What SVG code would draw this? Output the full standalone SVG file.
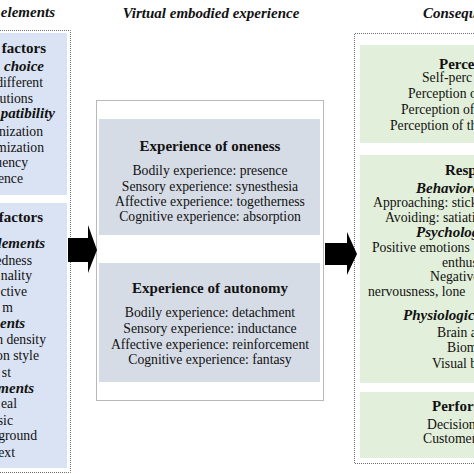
<svg xmlns="http://www.w3.org/2000/svg" width="474" height="474" viewBox="0 0 474 474">
<style>
text{font-family:"Liberation Serif","Times New Roman",serif;font-size:13.7px;fill:#111}
.h{font-weight:bold;font-size:15px}
.bi{font-weight:bold;font-style:italic;font-size:15px}
.t{font-weight:bold;font-style:italic;font-size:15px}
.e{text-anchor:end}
.m{text-anchor:middle}
.border{fill:none;stroke:#707070;stroke-width:1;stroke-dasharray:1 1}
.pb{fill:#dae3f3}
.pg{fill:#d6dce6}
.pn{fill:#e2efda}
</style>
<rect width="474" height="474" fill="#fff"/>
<text class="t e" x="55" y="17">elements</text>
<text class="t m" x="211" y="18">Virtual embodied experience</text>
<text class="t" x="423" y="18">Consequ</text>
<g id="antecedents">
<rect class="pb" x="0" y="33" width="67" height="162"/>
<rect class="pb" x="0" y="203" width="67" height="265"/>
<path class="border" d="M0 30.5H70.5V472.5H0"/>
<text class="h e" x="46" y="53">factors</text>
<text class="bi e" x="44" y="71">choice</text>
<text class="e" x="43" y="87">different</text>
<text class="e" x="33" y="103">utions</text>
<text class="bi e" x="55" y="118">patibility</text>
<text class="e" x="43" y="136">nization</text>
<text class="e" x="44" y="152">mization</text>
<text class="e" x="28" y="167">uency</text>
<text class="e" x="23" y="183">ence</text>
<text class="h e" x="43" y="222">factors</text>
<text class="bi e" x="45" y="248">lements</text>
<text class="e" x="32" y="265">edness</text>
<text class="e" x="32" y="280">nality</text>
<text class="e" x="27" y="296">ctive</text>
<text class="e" x="13" y="312">m</text>
<text class="bi e" x="25" y="328">ents</text>
<text class="e" x="46" y="344">n density</text>
<text class="e" x="39" y="360">on style</text>
<text class="e" x="11" y="377">st</text>
<text class="bi e" x="34" y="393">ments</text>
<text class="e" x="17" y="408">eal</text>
<text class="e" x="13" y="425">sic</text>
<text class="e" x="37" y="440">ground</text>
<text class="e" x="15" y="457">ext</text>
</g>
<g id="experience">
<rect class="border" x="96.5" y="100.5" width="227" height="300"/>
<g id="oneness">
<rect class="pg" x="99" y="119" width="221" height="116"/>
<text class="h m" x="210" y="151">Experience of oneness</text>
<text class="m" x="210" y="175">Bodily experience: presence</text>
<text class="m" x="210" y="191">Sensory experience: synesthesia</text>
<text class="m" x="210" y="206">Affective experience: togetherness</text>
<text class="m" x="210" y="221">Cognitive experience: absorption</text>
</g>
<g id="autonomy">
<rect class="pg" x="99" y="263" width="221" height="119"/>
<text class="h m" x="210" y="293">Experience of autonomy</text>
<text class="m" x="210" y="317">Bodily experience: detachment</text>
<text class="m" x="210" y="333">Sensory experience: inductance</text>
<text class="m" x="210" y="349">Affective experience: reinforcement</text>
<text class="m" x="210" y="364">Cognitive experience: fantasy</text>
</g>
</g>
<g id="consequences">
<path class="border" d="M474 33.5H354.5V463.5H474"/>
<g id="perception">
<rect class="pn" x="360" y="45" width="114" height="98"/>
<text class="h" x="439" y="69">Percep</text>
<text x="422" y="82">Self-perc</text>
<text x="408" y="98">Perception o</text>
<text x="401" y="114">Perception of</text>
<text x="390" y="130">Perception of th</text>
</g>
<g id="response">
<rect class="pn" x="360" y="155" width="114" height="228"/>
<text class="h" x="445" y="175">Respo</text>
<text class="bi" x="416" y="193">Behavioral in</text>
<text x="373" y="207">Approaching: sticki</text>
<text x="385" y="222">Avoiding: satiati</text>
<text class="bi" x="416" y="237">Psychologica</text>
<text x="372" y="252">Positive emotions</text>
<text x="442" y="267">enthusi</text>
<text x="430" y="281">Negative emo</text>
<text x="368" y="296">nervousness, lone</text>
<text class="bi" x="403" y="320">Physiologica</text>
<text x="437" y="337">Brain an</text>
<text x="447" y="352">Biome</text>
<text x="432" y="368">Visual bi</text>
</g>
<g id="performance">
<rect class="pn" x="360" y="392" width="114" height="66"/>
<text class="h" x="432" y="411">Perform</text>
<text x="427" y="429">Decision</text>
<text x="423" y="443">Customer</text>
</g>
</g>
<g id="connectors" fill="#000">
<polygon points="68,238 88,238 88,225 97,250 88,273 88,262 68,262"/>
<polygon points="325,243 347,243 347,232 357,254 347,275 347,265 325,265"/>
</g>
</svg>
